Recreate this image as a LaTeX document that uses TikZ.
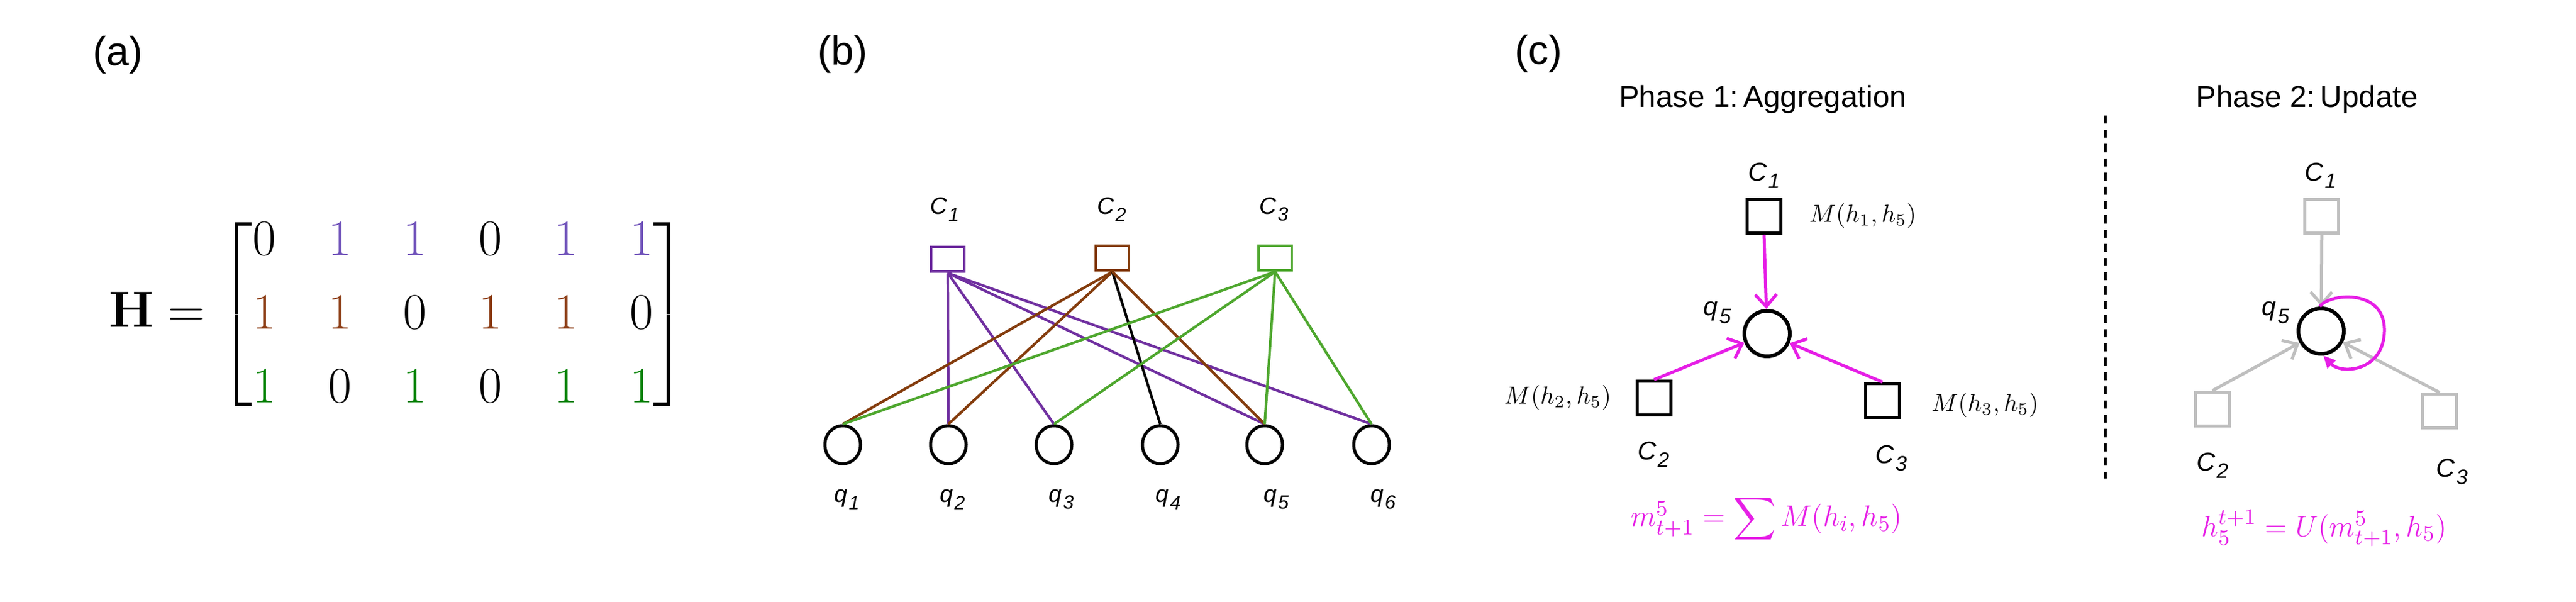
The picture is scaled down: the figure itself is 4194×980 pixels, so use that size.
\documentclass[tikz,border=0pt]{standalone}
\usepackage{amsmath}
\usepackage[no-math]{fontspec}
\newfontfamily\lsans{Liberation Sans}
\usetikzlibrary{arrows.meta,shapes.geometric}
\definecolor{mpurple}{RGB}{110,80,185}
\definecolor{mbrown}{RGB}{140,60,20}
\definecolor{mgreen}{RGB}{0,128,0}
\definecolor{gpurple}{RGB}{112,48,160}
\definecolor{gbrown}{RGB}{132,60,12}
\definecolor{ggreen}{RGB}{78,167,46}
\definecolor{mag}{RGB}{230,30,230}
\definecolor{lgrey}{RGB}{191,191,191}
\newcommand{\cp}[1]{\textcolor{mpurple}{#1}}
\newcommand{\cb}[1]{\textcolor{mbrown}{#1}}
\newcommand{\cg}[1]{\textcolor{mgreen}{#1}}
% italic sans label with lowered subscript: \lbl{letter}{index}{sub size}
\newcommand{\lbl}[3]{#1\kern0.05em\raisebox{-0.3em}{\fontsize{#3}{#3}\selectfont #2}}
\begin{document}
\begin{tikzpicture}[x=0.25pt,y=-0.25pt,
  panel/.style={font=\fontsize{16.5}{18}\selectfont\lsans, inner sep=0},
  phase/.style={font=\fontsize{12.3}{14}\selectfont\lsans, inner sep=0},
  glabel/.style={font=\fontsize{9.6}{11}\selectfont\lsans\itshape, inner sep=0},
  clabel/.style={font=\fontsize{10.5}{12}\selectfont\lsans\itshape, inner sep=0},
  mlabel/.style={font=\fontsize{10}{12}\selectfont, inner sep=0},
  formula/.style={font=\fontsize{12.7}{15}\selectfont, inner sep=0, text=mag},
  chk/.style={draw=#1, rectangle, line width=1.2pt, minimum width=13.5pt, minimum height=10pt, inner sep=0},
  qvar/.style={draw=black, ellipse, line width=1.25pt, minimum width=14.5pt, minimum height=15.5pt, inner sep=0},
  edge/.style={draw=#1, line width=1.05pt},
  bigchk/.style={draw=#1, rectangle, line width=1.25pt, minimum size=13.75pt, inner sep=0},
  bigq/.style={draw=black, circle, line width=1.5pt, minimum size=18.5pt, inner sep=0},
  msg/.style={draw=#1, line width=1.25pt, -{Straight Barb[length=5pt,width=8.75pt]}},
  selfloop/.style={draw=mag, line width=1.25pt, -{Triangle[length=5pt,width=4.5pt]}},
  sep/.style={draw=black, line width=1pt, dash pattern=on 3.3pt off 2.5pt}
]
\useasboundingbox (0,0) rectangle (4194,980);

% ---------------- (a)
\node[panel] (la) at (192,89) {(a)};
\node[inner sep=0, font=\fontsize{21.5}{25}\selectfont] (mat) at (648,512)
 {$\renewcommand{\arraystretch}{1.2}\setlength{\arraycolsep}{10.6pt}%
 \delimiterfactor=700 \delimitershortfall=20pt
 \mathbf{H}=\begin{bmatrix}
 0 & \cp{1} & \cp{1} & 0 & \cp{1} & \cp{1}\\
 \cb{1} & \cb{1} & 0 & \cb{1} & \cb{1} & 0\\
 \cg{1} & 0 & \cg{1} & 0 & \cg{1} & \cg{1}
 \end{bmatrix}$};

% ---------------- (b)
\node[panel] (lb) at (1372,88) {(b)};
\node[chk=gpurple] (c1) at (1543,422) {};
\node[chk=gbrown]  (c2) at (1811,420) {};
\node[chk=ggreen]  (c3) at (2076,420) {};
\node[glabel] (c1l) at (1538,341) {\lbl{C}{1}{7.8}};
\node[glabel] (c2l) at (1810,341) {\lbl{C}{2}{7.8}};
\node[glabel] (c3l) at (2074,341) {\lbl{C}{3}{7.8}};
\foreach \i/\x in {1/1372,2/1544,3/1716,4/1889,5/2059,6/2233}{
  \node[qvar] (q\i) at (\x,724) {};
}
\foreach \i/\x in {1/1379,2/1551,3/1728,4/1902,5/2078,6/2252}{
  \node[glabel] (q\i l) at (\x,813) {\lbl{q}{\i}{7.8}};
}
\draw[edge=gpurple] (c1.south) -- (q2.north);
\draw[edge=gpurple] (c1.south) -- (q3.north);
\draw[edge=gpurple] (c1.south) -- (q5.north);
\draw[edge=gpurple] (c1.south) -- (q6.north);
\draw[edge=gbrown] (c2.south) -- (q1.north);
\draw[edge=gbrown] (c2.south) -- (q2.north);
\draw[edge=black]  (c2.south) -- (q4.north);
\draw[edge=gbrown] (c2.south) -- (q5.north);
\draw[edge=ggreen] (c3.south) -- (q1.north);
\draw[edge=ggreen] (c3.south) -- (q3.north);
\draw[edge=ggreen] (c3.south) -- (q5.north);
\draw[edge=ggreen] (c3.south) -- (q6.north);

% ---------------- (c) phase 1
\node[panel] (lc) at (2505,87) {(c)};
\node[phase] (ph1) at (2870,162) {Phase 1:\,Aggregation};
\node[bigchk=black] (a1) at (2872,352) {};
\node[bigchk=black] (a2) at (2693,648) {};
\node[bigchk=black] (a3) at (3065,652) {};
\node[bigq] (aq) at (2877,543) {};
\node[clabel] (a1l) at (2872,286) {\lbl{C}{1}{8.5}};
\node[clabel] (a2l) at (2692,740) {\lbl{C}{2}{8.5}};
\node[clabel] (a3l) at (3079,746) {\lbl{C}{3}{8.5}};
\node[clabel] (aql) at (2796,509) {\lbl{q}{5}{8.5}};
\node[mlabel, anchor=west] (m1) at (2945,352) {$M(h_1,h_5)$};
\node[mlabel, anchor=east] (m2) at (2624,648) {$M(h_2,h_5)$};
\node[mlabel, anchor=west] (m3) at (3144,660) {$M(h_3,h_5)$};
\draw[msg=mag] (a1.south) -- (aq);
\draw[msg=mag] (a2.north) -- (aq);
\draw[msg=mag] (a3.north) -- (aq);
\node[formula] (f1) at (2876,845) {$m_{t+1}^{5}=\displaystyle\sum M(h_i,h_5)$};

% separator
\coordinate (st) at (3428,188);
\coordinate (sb) at (3428,779);
\draw[sep] (st) -- (sb);

% ---------------- (c) phase 2
\node[phase] (ph2) at (3756,162) {Phase 2:\,Update};
\node[bigchk=lgrey] (b1) at (3780,352) {};
\node[bigchk=lgrey] (b2) at (3602,666) {};
\node[bigchk=lgrey] (b3) at (3972,669) {};
\node[bigq] (bq) at (3779,539) {};
\node[clabel] (b1l) at (3778,286) {\lbl{C}{1}{8.5}};
\node[clabel] (b2l) at (3602,758) {\lbl{C}{2}{8.5}};
\node[clabel] (b3l) at (3992,768) {\lbl{C}{3}{8.5}};
\node[clabel] (bql) at (3705,509) {\lbl{q}{5}{8.5}};
\draw[msg=lgrey] (b1.south) -- (bq);
\draw[msg=lgrey] (b2.north) -- (bq);
\draw[msg=lgrey] (b3.north) -- (bq);
\draw[selfloop] (bq.93) .. controls (3790,478) and (3882,468) .. (3882,537)
   .. controls (3882,605) and (3812,610) .. (bq.-85);
\node[formula] (f2) at (3784,860) {$h_{5}^{t+1}=U(m_{t+1}^{5},h_5)$};
\end{tikzpicture}
\end{document}
